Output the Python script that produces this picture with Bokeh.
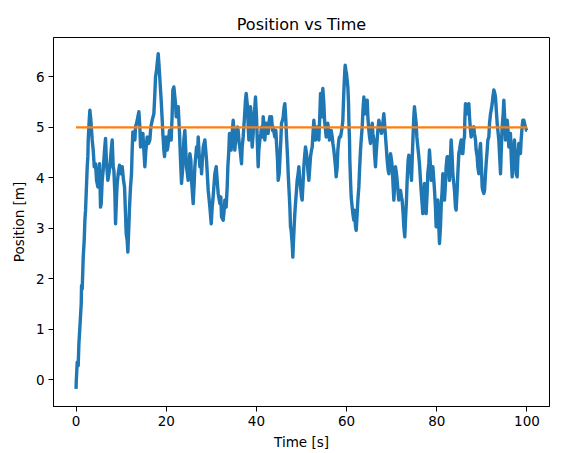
from bokeh.plotting import figure
from bokeh.embed import file_html
from bokeh.resources import INLINE
from bokeh.models import FixedTicker, Range1d

# Position trace (time [s], position [m])
time_s = [
    0.00, 0.04, 0.26, 0.48, 0.63, 0.85, 1.15, 1.22, 1.37, 1.59, 1.81, 1.96, 2.11, 2.25, 2.48, 2.62, 2.70, 2.92, 3.07, 3.29,
    3.44, 3.58, 3.81, 4.03, 4.32, 4.55, 4.84, 5.06, 5.21, 5.43, 5.58, 5.80, 6.02, 6.32, 6.54, 6.76, 7.06, 7.28, 7.50, 7.80,
    8.02, 8.24, 8.39, 8.61, 8.76, 8.98, 9.13, 9.35, 9.64, 9.94, 10.24, 10.53, 10.75, 10.97, 11.12, 11.34, 11.49, 11.71, 11.86, 12.08,
    12.30, 12.45, 12.60, 12.82, 13.05, 13.19, 13.42, 13.71, 13.93, 14.15, 14.30, 14.53, 14.82, 15.04, 15.26, 15.49, 15.78, 16.08, 16.37, 16.59,
    16.89, 17.26, 17.48, 17.63, 17.85, 18.00, 18.22, 18.37, 18.51, 18.74, 18.88, 19.11, 19.25, 19.48, 19.62, 19.84, 19.99, 20.21, 20.36, 20.58,
    20.73, 20.95, 21.10, 21.32, 21.47, 21.69, 21.84, 22.06, 22.21, 22.43, 22.66, 22.95, 23.17, 23.39, 23.69, 23.91,
    24.13, 24.50, 24.87, 25.24, 25.46, 25.61, 25.98, 26.20, 26.35, 26.72, 26.94, 27.09, 27.46, 27.69, 27.83, 28.20, 28.57, 28.94, 29.31, 29.68,
    29.98, 30.19, 30.35, 30.78, 31.08, 31.30, 31.52, 31.89, 32.11, 32.26, 32.63, 32.85, 33.00, 33.30, 33.52, 33.67, 33.89, 34.03, 34.26, 34.40,
    34.62, 34.85, 35.07, 35.21, 35.44, 35.58, 35.81, 35.95, 36.18, 36.32, 36.70, 36.84, 37.07, 37.36, 37.58, 37.73, 37.88, 38.03, 38.18, 38.33,
    38.47, 38.69, 38.92, 39.06, 39.29, 39.43, 39.65, 39.80, 40.02, 40.17, 40.39, 40.54, 40.76, 40.98, 41.13, 41.35, 41.50, 41.72, 41.87, 42.02,
    42.16, 42.39, 42.61, 42.75, 42.98, 43.20, 43.35, 43.57, 43.72, 43.94, 44.09, 44.31, 44.46, 44.68, 44.83, 45.05, 45.20, 45.42, 45.57, 45.79,
    45.94, 46.16, 46.31, 46.53, 46.68, 46.90, 47.05, 47.27, 47.42, 47.56, 47.71, 47.93, 48.08, 48.23, 48.37, 48.52, 48.67, 48.89, 49.04, 49.26,
    49.41, 49.63, 49.78, 50.00, 50.15, 50.37, 50.52, 50.74,
    50.89, 51.11, 51.26, 51.48, 51.63, 51.85, 52.00, 52.22, 52.37, 52.59, 52.74, 52.96, 53.11, 53.33, 53.48, 53.70, 53.85, 54.07, 54.22, 54.36,
    54.44, 54.58, 54.73, 54.96, 55.11, 55.33, 55.47, 55.70, 55.84, 56.06, 56.21, 56.44, 56.58, 56.81, 56.96, 57.17, 57.32, 57.54, 57.69, 57.92,
    58.06, 58.28, 58.43, 58.65, 58.80, 59.02, 59.17, 59.32, 59.47, 59.61, 59.69, 59.84, 59.98, 60.13, 60.28, 60.43, 60.50, 60.65, 60.72, 60.87,
    61.02, 61.24, 61.39, 61.61, 61.76, 61.98, 62.13, 62.35, 62.50, 62.72, 62.87, 63.09, 63.24, 63.46, 63.68, 63.83, 63.98, 64.21, 64.35, 64.57,
    64.72, 64.94, 65.09, 65.31, 65.46, 65.69, 65.83, 66.06, 66.20, 66.41, 66.56, 66.78, 66.93, 67.16, 67.30, 67.52, 67.74, 67.89, 68.11, 68.26,
    68.48, 68.63, 68.85, 69.00, 69.22, 69.37, 69.59, 69.74, 69.96, 70.11, 70.33, 70.48, 70.70, 70.84, 71.07, 71.21, 71.44, 71.59, 71.81, 71.95,
    72.18, 72.32, 72.54, 72.69, 72.91, 73.06, 73.28, 73.43, 73.65, 73.80, 74.02, 74.17, 74.39, 74.54, 74.76, 74.91, 75.05, 75.20, 75.43, 75.58,
    75.80, 75.95, 76.16, 76.39, 76.53, 76.75, 76.90, 77.13, 77.28,
    77.49, 77.64, 77.86, 78.01, 78.24, 78.38, 78.61, 78.76, 78.98, 79.13, 79.35, 79.50, 79.71, 79.86, 80.08, 80.23, 80.45, 80.60, 80.82, 80.97,
    81.19, 81.34, 81.56, 81.71, 81.93, 82.08, 82.30, 82.45, 82.67, 82.82, 83.04, 83.19, 83.41, 83.56, 83.78, 83.93, 84.15, 84.29, 84.52, 84.67,
    84.89, 85.04, 85.26, 85.41, 85.63, 85.78, 86.00, 86.15, 86.22, 86.37, 86.59, 86.74, 86.96, 87.11, 87.26, 87.48, 87.62, 87.84, 87.99, 88.21,
    88.36, 88.59, 88.73, 88.96, 89.10, 89.33, 89.47, 89.70, 89.85, 90.07, 90.21, 90.44, 90.59, 90.80, 90.95, 91.18, 91.33, 91.55, 91.70, 91.92,
    92.07, 92.29, 92.44, 92.66, 92.88, 93.02, 93.25, 93.40, 93.62, 93.76, 93.99, 94.14, 94.28, 94.50, 94.73, 94.87, 95.02, 95.24, 95.39, 95.61,
    95.76, 95.98, 96.13, 96.34, 96.49, 96.72, 96.86, 97.08, 97.23, 97.45, 97.60, 97.82, 97.97, 98.19, 98.34, 98.56, 98.71, 98.93, 99.08, 99.31,
    99.45, 99.67, 99.90, 100.00,
]
position_m = [
    -0.18, -0.05, 0.35, 0.28, 0.71, 1.04, 1.51, 1.87, 1.80, 2.43, 2.76, 3.16, 3.36, 3.69, 4.22, 4.42, 4.75, 5.14, 5.34, 5.14,
    4.94, 4.75, 4.55, 4.22, 4.28, 3.95, 3.82, 4.15, 4.28, 3.42, 3.49, 3.95, 4.15, 4.55, 4.78, 4.28, 3.95, 4.08, 4.22, 4.55,
    4.75, 4.22, 4.15, 3.69, 3.09, 3.62, 3.89, 4.08, 4.25, 4.08, 4.22, 3.95, 3.82, 3.29, 2.89, 2.76, 2.53, 3.03, 3.42, 3.82,
    4.08, 4.55, 4.91, 4.81, 4.75, 5.01, 5.08, 5.21, 5.31, 5.01, 4.61, 4.75, 4.88, 4.55, 4.22, 4.55, 4.81, 4.68, 4.75, 5.01,
    5.14, 5.27, 5.67, 6.00, 6.13, 6.27, 6.46, 6.27, 6.07, 5.74, 5.54, 5.14, 4.88, 4.55, 4.42, 4.68, 4.81, 4.55, 4.61, 4.81,
    4.94, 4.88, 4.75, 5.27, 5.74, 5.80, 5.67, 5.47, 5.21, 5.34, 5.41, 4.88, 4.35, 3.89, 4.22, 4.75,
    4.94, 4.22, 3.95, 4.48, 4.35, 3.95, 3.49, 3.89, 4.22, 4.61, 4.42, 4.81, 4.22, 4.42, 4.08, 4.61, 4.75, 4.35, 3.75, 3.42,
    3.09, 3.42, 3.56, 4.08, 4.22, 3.95, 3.69, 3.49, 3.62, 3.23, 3.16, 3.36, 3.56, 3.42, 3.82, 4.22, 4.55, 4.88, 4.75, 4.55,
    4.88, 5.14, 4.88, 4.55, 4.81, 4.75, 5.01, 4.94, 4.68, 4.61, 4.28, 4.61, 4.81, 5.21, 5.54, 5.67, 5.54, 5.41, 5.01, 4.75,
    5.08, 5.41, 4.94, 4.61, 4.88, 5.21, 5.41, 5.60, 5.21, 4.81, 4.22, 4.55, 4.75, 4.88, 5.01, 4.81, 5.21, 5.01, 4.75, 4.94,
    5.08, 4.94, 4.88, 5.08, 5.21, 5.08, 5.21, 4.94, 5.01, 4.88, 4.81, 4.94, 4.68, 4.35, 3.95, 4.08, 4.35, 4.75, 5.08, 5.14,
    5.21, 5.41, 5.47, 5.14, 4.81, 4.42, 4.08, 3.69, 3.42, 3.03, 2.96, 2.70, 2.43, 2.76, 3.03, 3.29, 3.49, 3.75, 3.95, 4.08,
    4.22, 3.95, 3.82, 3.62, 3.56, 3.95, 4.22, 4.48,
    4.61, 4.48, 4.35, 4.08, 3.95, 4.22, 4.42, 4.55, 4.61, 4.94, 5.14, 4.88, 4.75, 4.94, 5.01, 4.81, 4.75, 5.27, 5.67, 5.41,
    5.21, 5.54, 5.77, 5.47, 5.14, 4.94, 4.81, 4.94, 5.08, 4.88, 4.75, 4.88, 4.94, 4.81, 4.68, 4.55, 4.42, 4.22, 4.02, 4.22,
    4.55, 4.75, 4.81, 4.81, 4.88, 5.01, 5.14, 5.54, 5.87, 6.13, 6.23, 6.13, 6.07, 5.93, 5.80, 5.47, 5.14, 4.75, 4.35, 3.95,
    3.62, 3.42, 3.29, 3.16, 3.36, 3.03, 2.96, 3.29, 3.56, 3.82, 4.15, 4.55, 4.75, 5.01, 5.41, 5.60, 5.47, 5.27, 5.41, 5.54,
    5.21, 4.94, 4.81, 4.68, 4.88, 5.08, 4.88, 4.75, 4.48, 4.22, 4.48, 4.75, 4.94, 5.14, 5.08, 5.01, 4.88, 4.94, 5.14, 5.27,
    5.01, 4.81, 4.55, 4.35, 4.15, 4.08, 4.35, 4.48, 4.35, 4.22, 3.82, 3.56, 3.95, 4.22, 4.08, 3.95, 3.69, 3.56, 3.75, 3.75,
    3.62, 3.56, 3.29, 3.03, 2.83, 3.16, 3.56, 3.95, 4.35, 4.45, 4.42, 4.22, 3.95, 4.35, 4.88, 5.21, 5.41, 5.27, 5.08, 4.81,
    4.61, 4.48, 4.28, 3.95, 3.75, 3.49, 3.29, 3.62, 3.89,
    3.56, 3.29, 3.69, 4.08, 4.28, 4.55, 4.22, 3.95, 4.08, 4.22, 3.95, 3.75, 3.42, 3.03, 3.29, 3.56, 3.03, 2.70, 3.03, 3.42,
    3.75, 4.08, 3.82, 3.56, 3.89, 4.22, 4.42, 4.42, 4.15, 3.95, 4.42, 4.75, 4.42, 4.08, 3.89, 3.75, 3.42, 3.36, 3.75, 4.08,
    4.48, 4.55, 4.68, 4.75, 4.48, 4.48, 4.75, 4.81, 5.14, 5.47, 5.41, 5.27, 5.41, 5.47, 5.21, 4.94, 4.81, 4.88, 4.94, 5.01,
    4.88, 4.75, 4.55, 4.42, 4.22, 4.08, 4.48, 4.68, 4.35, 3.82, 3.75, 3.69, 3.75, 4.08, 4.28, 4.55, 4.75, 4.81, 5.08, 5.27,
    5.34, 5.47, 5.60, 5.74, 5.67, 5.60, 5.27, 5.08, 4.88, 4.75, 4.35, 4.08, 4.48, 5.01, 5.27, 5.54, 5.27, 4.75, 4.88, 5.14,
    5.01, 4.61, 4.75, 4.88, 4.48, 4.02, 4.28, 4.61, 4.75, 4.35, 4.08, 4.02, 4.35, 4.68, 4.61, 4.48, 4.75, 5.01, 5.14, 5.14,
    5.08, 5.01, 4.94, 4.94,
]

# Setpoint line
setpoint_t = [0, 100]
setpoint_m = [5, 5]

x_ticks = [0, 20, 40, 60, 80, 100]
y_ticks = [0, 1, 2, 3, 4, 5, 6]

FONT = "DejaVu Sans"

p = figure(
    width=564, height=453,
    output_backend="svg", toolbar_location=None,
    x_range=Range1d(-5, 105), y_range=Range1d(-0.53, 6.78),
    title="Position vs Time",
    min_border_left=53, min_border_right=15, min_border_top=37, min_border_bottom=47,
)

p.line(time_s, position_m, line_color="#1f77b4", line_width=3.4, line_join="round")
p.line(setpoint_t, setpoint_m, line_color="#ff7f0e", line_width=2.2)

p.title.text_font = FONT
p.title.text_font_size = "16px"
p.title.text_font_style = "normal"
p.title.align = "center"
p.title.text_color = "black"
p.title.standoff = 8

p.xgrid.visible = False
p.ygrid.visible = False
p.outline_line_color = "black"
p.outline_line_width = 1
p.outline_line_alpha = 1
p.background_fill_color = "white"
p.border_fill_color = "white"

for ax, ticks in ((p.xaxis[0], x_ticks), (p.yaxis[0], y_ticks)):
    ax.ticker = FixedTicker(ticks=ticks)
    ax.minor_tick_line_color = None
    ax.major_tick_in = 0
    ax.major_tick_out = 5
    ax.major_tick_line_color = "black"
    ax.axis_line_color = "black"
    ax.major_label_text_font = FONT
    ax.major_label_text_font_size = "13.5px"
    ax.major_label_text_color = "black"
    ax.axis_label_text_font = FONT
    ax.axis_label_text_font_size = "13.5px"
    ax.axis_label_text_font_style = "normal"
    ax.axis_label_text_color = "black"

p.xaxis.axis_label = "Time [s]"
p.yaxis.axis_label = "Position [m]"
p.xaxis.axis_label_standoff = 5
p.yaxis.axis_label_standoff = 6
p.yaxis.major_label_standoff = 4
p.xaxis.major_label_standoff = 4

open("out.html", "w").write(file_html(p, INLINE))
